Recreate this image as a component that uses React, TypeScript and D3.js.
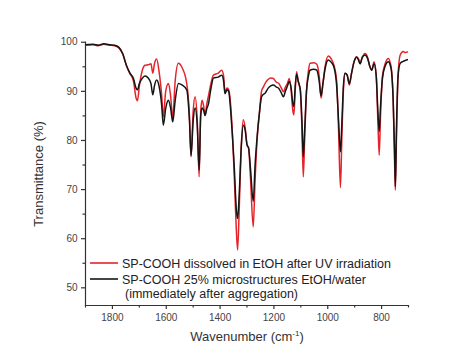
import { useEffect, useRef } from "react";
import * as d3 from "d3";

// wavenumber grid (cm-1) shared by both spectra
const wavenumbers = [
  1900, 1870, 1850, 1830, 1810, 1790, 1775, 1760, 1745, 1733, 1720, 1710, 1705, 1698, 1688,
  1677, 1665, 1655, 1648, 1642, 1634, 1625, 1615, 1609, 1600, 1590, 1582, 1574, 1565, 1553,
  1540, 1522, 1512, 1506, 1498, 1491, 1483, 1476, 1470, 1465, 1458, 1454, 1447, 1442, 1432,
  1423, 1405, 1392, 1385, 1380, 1372, 1366, 1355, 1345, 1338, 1333, 1327, 1320, 1312, 1305,
  1298, 1292, 1285, 1275, 1268, 1260, 1252, 1244, 1237, 1231, 1220, 1210, 1200, 1190, 1180,
  1170, 1163, 1155, 1148, 1141, 1134, 1128, 1124, 1119, 1114, 1108, 1100, 1094, 1089, 1084,
  1077, 1070, 1064, 1050, 1039, 1030, 1023, 1016, 1008, 996, 985, 975, 965, 958, 951,
  946, 940, 934, 926, 918, 910, 900, 891, 884, 878, 870, 860, 850, 842, 835,
  826, 818, 812, 807, 802, 795, 785, 773, 765, 761, 755, 750, 747, 743, 737,
  729, 718, 710, 700,
];

// SP-COOH dissolved in EtOH after UV irradiation
const uvSeries = [
  99.3, 99.4, 99.2, 99.5, 99.3, 99.2, 98.8, 97.5, 95.0, 93.5, 92.0, 88.5, 88.0, 91.0, 94.0,
  95.2, 95.3, 95.5, 93.6, 95.5, 96.5, 94.0, 89.0, 84.7, 90.0, 91.5, 89.0, 84.5, 92.0, 95.6,
  94.8, 91.5, 85.0, 76.6, 86.0, 88.8, 84.0, 72.5, 86.0, 88.1, 86.5, 85.0, 87.5, 88.8, 91.5,
  93.2, 93.6, 94.2, 93.0, 89.8, 90.6, 90.2, 84.0, 72.0, 62.0, 57.6, 66.0, 78.0, 84.1, 82.5,
  79.0, 78.3, 72.0, 62.3, 72.0, 80.5, 85.5, 90.0, 90.8, 91.5, 92.3, 92.6, 92.5, 91.8, 91.5,
  90.5, 89.8, 90.8, 91.5, 92.5, 90.0, 86.0, 85.1, 90.0, 93.9, 92.0, 90.0, 82.0, 72.5, 80.0,
  90.0, 94.0, 95.6, 95.7, 95.4, 93.0, 88.5, 91.5, 95.0, 97.1, 96.5, 95.2, 92.0, 82.0, 70.3,
  80.0, 90.0, 93.6, 93.2, 91.2, 93.5, 96.0, 96.9, 96.5, 95.6, 96.8, 97.6, 96.8, 95.0, 94.2,
  95.9, 93.0, 84.0, 76.9, 85.0, 93.0, 95.5, 96.6, 95.5, 94.2, 88.0, 76.0, 69.8, 80.0, 93.0,
  97.3, 98.0, 97.8, 98.0,
];

// SP-COOH 25% microstructures EtOH/water
const aggSeries = [
  99.4, 99.5, 99.3, 99.6, 99.4, 99.3, 98.9, 97.6, 95.0, 93.6, 92.5, 90.5, 90.2, 91.5, 92.5,
  93.0, 92.6, 91.5, 89.2, 91.0, 92.2, 91.0, 87.0, 83.0, 86.5, 88.1, 86.5, 83.7, 88.0, 91.5,
  91.2, 90.2, 84.0, 76.8, 84.0, 86.5, 83.0, 73.9, 85.0, 86.5, 85.8, 85.0, 86.5, 87.2, 90.5,
  92.6, 92.8, 93.2, 92.0, 89.4, 90.2, 89.8, 83.0, 74.0, 66.0, 64.0, 69.0, 78.0, 83.0, 82.0,
  79.0, 78.3, 74.0, 67.5, 75.0, 81.0, 85.5, 88.8, 89.3, 89.5, 90.5, 91.0, 91.2, 90.8, 90.5,
  89.5, 88.8, 90.0, 91.0, 91.9, 90.5, 87.5, 86.8, 91.0, 93.4, 92.0, 90.2, 84.0, 76.6, 82.0,
  90.0, 93.0, 94.2, 94.4, 94.2, 92.0, 89.0, 91.5, 94.5, 96.3, 95.8, 94.8, 91.0, 84.0, 77.6,
  83.0, 91.0, 93.6, 93.2, 91.4, 93.5, 96.0, 96.9, 96.3, 95.5, 96.8, 97.3, 96.6, 95.0, 94.2,
  95.5, 93.0, 86.0, 81.7, 87.0, 92.5, 95.0, 95.9, 95.0, 93.8, 88.0, 78.0, 70.5, 82.0, 93.0,
  95.6, 96.0, 96.2, 96.4,
];

const xMajor = [1800, 1600, 1400, 1200, 1000, 800];
const xMinor = [1900, 1700, 1500, 1300, 1100, 900, 700];
const yMajor = [50, 60, 70, 80, 90, 100];
const yMinor = [55, 65, 75, 85, 95];

const legendLines = [
  { color: "#e3242b", label: ["SP-COOH dissolved in EtOH after UV irradiation"] },
  { color: "#151515", label: ["SP-COOH 25% microstructures EtOH/water", "(immediately after aggregation)"] },
];

export default function App() {
  const ref = useRef<SVGSVGElement | null>(null);

  useEffect(() => {
    const svg = d3.select(ref.current);
    svg.selectAll("*").remove();
    const font = "'Liberation Sans', Arial, sans-serif";
    const axisColor = "#333";
    const textColor = "#444";

    const x = d3.scaleLinear().domain([1900, 700]).range([85, 408]);
    const y = d3.scaleLinear().domain([46.4, 100.15]).range([305, 41]);

    // x axis
    const gx = svg.append("g").attr("transform", "translate(0,305)");
    gx.call(d3.axisBottom(x).tickValues(xMajor).tickSize(4).tickSizeOuter(0).tickFormat(d3.format("d")));
    gx.append("g").call(d3.axisBottom(x).tickValues(xMinor).tickSize(2.5).tickFormat(() => ""))
      .select(".domain").remove();
    gx.selectAll("path,line").attr("stroke", axisColor).attr("stroke-width", 1.2);
    gx.selectAll("text").attr("font-family", font).attr("font-size", 10).attr("fill", textColor).attr("dy", "0.9em");

    // y axis
    const gy = svg.append("g").attr("transform", "translate(85,0)");
    gy.call(d3.axisLeft(y).tickValues(yMajor).tickSize(4).tickSizeOuter(0));
    gy.append("g").call(d3.axisLeft(y).tickValues(yMinor).tickSize(2.5).tickFormat(() => ""))
      .select(".domain").remove();
    gy.selectAll("path,line").attr("stroke", axisColor).attr("stroke-width", 1.2);
    gy.selectAll("text").attr("font-family", font).attr("font-size", 10).attr("fill", textColor).attr("x", -7.5);

    const line = d3
      .line<number>()
      .x((_, i) => x(wavenumbers[i]))
      .y((d) => y(d))
      .curve(d3.curveMonotoneX);

    svg.append("path").datum(uvSeries).attr("d", line).attr("fill", "none")
      .attr("stroke", legendLines[0].color).attr("stroke-width", 1.5).attr("stroke-linejoin", "round");
    svg.append("path").datum(aggSeries).attr("d", line).attr("fill", "none")
      .attr("stroke", legendLines[1].color).attr("stroke-width", 1.5).attr("stroke-linejoin", "round");

    // legend
    let ly = 263;
    legendLines.forEach((item) => {
      svg.append("line").attr("x1", 90).attr("x2", 118).attr("y1", ly).attr("y2", ly)
        .attr("stroke", item.color).attr("stroke-width", 1.6);
      item.label.forEach((t, j) => {
        svg.append("text").attr("x", j === 0 ? 122 : 125).attr("y", ly + 4.5 + j * 14)
          .attr("font-family", font).attr("font-size", 12.5).attr("fill", "#222").text(t);
      });
      ly += 16;
    });

    // axis titles
    svg.append("text")
      .attr("transform", "translate(43,174) rotate(-90)")
      .attr("text-anchor", "middle")
      .attr("font-family", font).attr("font-size", 13).attr("fill", "#333")
      .text("Transmittance (%)");

    const xt = svg.append("text").attr("x", 247).attr("y", 341).attr("text-anchor", "middle")
      .attr("font-family", font).attr("font-size", 13).attr("fill", "#333");
    xt.append("tspan").text("Wavenumber (cm");
    xt.append("tspan").attr("font-size", 8).attr("dy", -5).text("-1");
    xt.append("tspan").attr("dy", 5).text(")");
  }, []);

  return (
    <svg
      ref={ref}
      width={474}
      height={362}
      style={{ position: "absolute", left: 0, top: 0, background: "#fff" }}
    />
  );
}
